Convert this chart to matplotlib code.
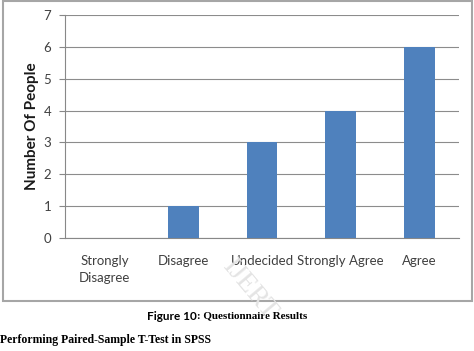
import matplotlib
matplotlib.use("Agg")
import matplotlib.pyplot as plt
from matplotlib.patches import Rectangle

categories = ["Strongly\nDisagree", "Disagree", "Undecided", "Strongly Agree", "Agree"]
values = [0, 1, 3, 4, 6]
yticks = [0, 1, 2, 3, 4, 5, 6, 7]

fig = plt.figure(figsize=(4.74, 3.51), dpi=100)
fig.patch.set_facecolor("white")

# chart frame
fig.patches.append(Rectangle((2.5/474, 1-301/351), 469.5/474, 300/351, transform=fig.transFigure,
                             fill=False, edgecolor="#a6a6a6", linewidth=1.5))

ax = fig.add_axes([65/474, 1-238/351, 394/474, 223/351])
x = range(len(categories))
ax.bar(x, values, width=0.39, color="#4f81bd", zorder=3)
ax.set_xlim(-0.5, len(categories)-0.5)
ax.set_ylim(0, 7)
ax.set_yticks(yticks)
ax.set_yticklabels([str(v) for v in yticks], fontsize=9.5, family="Lato", color="#404040")
ax.set_xticks(list(x))
ax.set_xticklabels(categories, fontsize=9.5, family="Lato", color="#404040", linespacing=1.5)
ax.tick_params(axis="x", length=0, pad=12)
ax.tick_params(axis="y", length=4, color="#888888", pad=6)
ax.grid(axis="y", color="#8c8c8c", linewidth=0.8, zorder=0)
for s in ["top", "right"]:
    ax.spines[s].set_visible(False)
ax.spines["left"].set_color("#888888")
ax.spines["bottom"].set_color("#888888")
ax.set_ylabel("Number Of People", fontsize=11, fontweight="bold", family="Lato", labelpad=3,
              color="#1a1a1a")

fig.text(197/474, 1-316/351, "Figure 10", fontsize=8.5, fontweight="bold", family="Lato",
         ha="right", va="center")
fig.text(197/474, 1-316/351, ": Questionnaire Results", fontsize=8, fontweight="bold",
         family="Liberation Serif", ha="left", va="center")
fig.text(0, 1-340/351, "Performing Paired-Sample T-Test in SPSS", fontsize=8.5, fontweight="bold",
         family="Liberation Serif", ha="left", va="center")
fig.text(250/474, 1-290/351, "IJERT", fontsize=20, family="Liberation Serif", color="#e4e4e4",
         rotation=-50, ha="center", va="center")

fig.savefig("out.png", dpi=100)
